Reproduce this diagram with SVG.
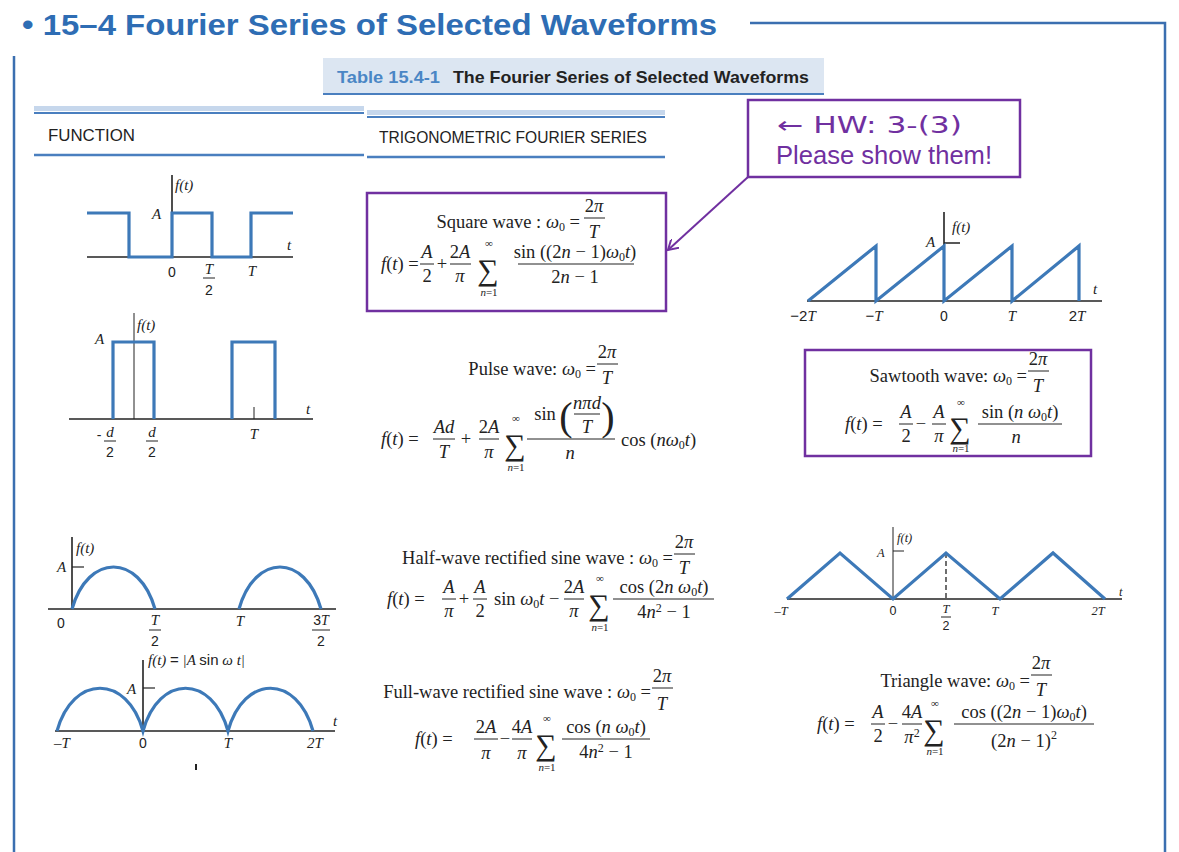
<svg xmlns="http://www.w3.org/2000/svg" width="1179" height="852" viewBox="0 0 1179 852">
<style>
.m{font-family:"Liberation Serif",serif;font-size:18.5px;fill:#222}
.s{font-family:"Liberation Serif",serif;font-size:11px;fill:#222}
.big{font-family:"Liberation Serif",serif;font-size:30px;fill:#222}
.i{font-style:italic}
.lab{font-family:"Liberation Serif",serif;font-style:italic;font-size:15px;fill:#222}
.n{font-family:"Liberation Sans",sans-serif;font-size:14px;fill:#222}
.t12{font-size:12.5px}
.fl{stroke:#222;stroke-width:1}
.ax{stroke:#222;stroke-width:1.6;fill:none}
.w{stroke:#3d79b8;stroke-width:3.2;fill:none;stroke-linejoin:miter}
.box{fill:none;stroke:#7030a0;stroke-width:2.5}
.frame{stroke:#3b6fb0;stroke-width:2.5;fill:none}
</style>
<defs>
<marker id="ah" markerWidth="12" markerHeight="12" refX="10" refY="6" orient="auto" markerUnits="userSpaceOnUse">
<path d="M0,0 L10,6 L0,12" fill="none" stroke="#7030a0" stroke-width="2"/>
</marker>
</defs>
<rect width="1179" height="852" fill="#fff"/>
<g id="frame">
<text x="22" y="35" font-family="Liberation Sans,sans-serif" font-weight="bold" font-size="30" fill="#2e6db4" textLength="695" lengthAdjust="spacingAndGlyphs">• 15–4 Fourier Series of Selected Waveforms</text>
<path class="frame" d="M750,23 H1165 V852"/>
<path class="frame" d="M14,56 V852"/>
</g>
<g id="caption">
<rect x="323" y="58" width="501" height="36" fill="#dce6f2"/>
<line x1="323" y1="94" x2="824" y2="94" stroke="#4a7fbf" stroke-width="2"/>
<text x="337" y="83" font-family="Liberation Sans,sans-serif" font-weight="bold" font-size="17" fill="#4a86c5" textLength="103" lengthAdjust="spacingAndGlyphs">Table 15.4-1</text>
<text x="453" y="83" font-family="Liberation Sans,sans-serif" font-weight="bold" font-size="17" fill="#222" textLength="356" lengthAdjust="spacingAndGlyphs">The Fourier Series of Selected Waveforms</text>
</g>
<g id="headers">
<rect x="34" y="106" width="330" height="5" fill="#c6d7ec"/>
<rect x="367" y="110" width="298" height="5" fill="#c6d7ec"/>
<line x1="34" y1="113" x2="364" y2="113" stroke="#4a7fbf" stroke-width="2"/>
<line x1="367" y1="117" x2="665" y2="117" stroke="#4a7fbf" stroke-width="2"/>
<line x1="34" y1="155" x2="364" y2="155" stroke="#4a7fbf" stroke-width="2.5"/>
<line x1="367" y1="157" x2="665" y2="157" stroke="#4a7fbf" stroke-width="2.5"/>
<text x="48" y="141" font-family="Liberation Sans,sans-serif" font-size="16" fill="#222" textLength="87" lengthAdjust="spacingAndGlyphs">FUNCTION</text>
<text x="379" y="143" font-family="Liberation Sans,sans-serif" font-size="16" fill="#222" textLength="268" lengthAdjust="spacingAndGlyphs">TRIGONOMETRIC FOURIER SERIES</text>
</g>
<g id="hw">
<rect x="748" y="100" width="272" height="77" fill="#fff" class="box"/>
<text x="777" y="133" font-family="DejaVu Sans,sans-serif" font-size="23" fill="#7030a0" textLength="185" lengthAdjust="spacingAndGlyphs">← HW: 3-(3)</text>
<text x="776" y="164" font-family="Liberation Sans,sans-serif" font-size="25" fill="#7030a0" textLength="216" lengthAdjust="spacingAndGlyphs">Please show them!</text>
</g>
<g id="connectors">
<line x1="748" y1="177" x2="668" y2="250" stroke="#7030a0" stroke-width="2" marker-end="url(#ah)"/>
</g>

<g id="square-plot">
<line class="ax" x1="87" y1="257" x2="293" y2="257"/>
<line class="ax" x1="172" y1="175" x2="172" y2="257"/>
<path class="w" d="M87,213 H129 V257 H172 V213 H212 V257 H251 V213 H293"/>
<text class="lab" x="175" y="190">f(t)</text>
<text class="lab" x="152" y="219">A</text>
<text class="lab" x="287" y="250">t</text>
<text class="n" x="172" y="277" text-anchor="middle">0</text>
<text class="lab" x="209" y="274" text-anchor="middle">T</text>
<line class="fl" x1="203" y1="278" x2="215" y2="278"/>
<text class="n" x="209" y="295" text-anchor="middle">2</text>
<text class="lab" x="252" y="276" text-anchor="middle">T</text>
</g>
<g id="square-formula">
<rect x="367" y="193" width="299" height="118" class="box"/>
<text class="m" x="580" y="228" text-anchor="end">Square wave : <tspan class="i">ω</tspan><tspan font-size="12" dy="3">0</tspan><tspan dy="-3"> =</tspan></text>
<text class="m" x="594" y="212" text-anchor="middle">2<tspan class="i">π</tspan></text>
<line class="fl" x1="584" y1="218" x2="605" y2="218"/>
<text class="m i" x="594" y="238" text-anchor="middle">T</text>
<text class="m" x="381" y="270"><tspan class="i">f</tspan>(<tspan class="i">t</tspan>) =</text>
<text class="m i" x="427" y="258" text-anchor="middle">A</text>
<line class="fl" x1="420" y1="264" x2="434" y2="264"/>
<text class="m" x="427" y="282" text-anchor="middle">2</text>
<text class="m" x="442" y="270" text-anchor="middle">+</text>
<text class="m" x="460" y="258" text-anchor="middle">2<tspan class="i">A</tspan></text>
<line class="fl" x1="450" y1="264" x2="471" y2="264"/>
<text class="m i" x="460" y="282" text-anchor="middle">π</text>
<text class="big" x="488" y="280" text-anchor="middle">∑</text>
<text class="s" x="489" y="247" text-anchor="middle">∞</text>
<text class="s i" x="489" y="296" text-anchor="middle">n<tspan font-style="normal">=1</tspan></text>
<text class="m" x="575" y="258" text-anchor="middle">sin ((2<tspan class="i">n</tspan> − 1)<tspan class="i">ω</tspan><tspan font-size="12" dy="3">0</tspan><tspan class="i" dy="-3">t</tspan>)</text>
<line class="fl" x1="518" y1="264" x2="634" y2="264"/>
<text class="m" x="575" y="283" text-anchor="middle">2<tspan class="i">n</tspan> − 1</text>
</g>

<g id="pulse-plot">
<line class="ax" x1="69" y1="419" x2="313" y2="419"/>
<line stroke="#222" stroke-width="1" x1="134" y1="313" x2="134" y2="419"/>
<path class="w" d="M113,419 V342 H154 V419"/>
<path class="w" d="M232,419 V342 H275 V419"/>
<line stroke="#222" stroke-width="1" x1="254" y1="407" x2="254" y2="419"/>
<text class="lab" x="137" y="330">f(t)</text>
<text class="lab" x="95" y="344">A</text>
<text class="lab" x="306" y="414">t</text>
<text class="n" x="99" y="440" text-anchor="middle">-</text>
<text class="lab" x="110" y="437" text-anchor="middle">d</text>
<line class="fl" x1="104" y1="441" x2="116" y2="441"/>
<text class="n" x="110" y="457" text-anchor="middle">2</text>
<text class="lab" x="152" y="437" text-anchor="middle">d</text>
<line class="fl" x1="146" y1="441" x2="158" y2="441"/>
<text class="n" x="152" y="457" text-anchor="middle">2</text>
<text class="lab" x="254" y="439" text-anchor="middle">T</text>
</g>
<g id="pulse-formula">
<text class="m" x="596" y="375" text-anchor="end">Pulse wave: <tspan class="i">ω</tspan><tspan font-size="12" dy="3">0</tspan><tspan dy="-3"> =</tspan></text>
<text class="m" x="607" y="358" text-anchor="middle">2<tspan class="i">π</tspan></text>
<line class="fl" x1="597" y1="364" x2="618" y2="364"/>
<text class="m i" x="607" y="384" text-anchor="middle">T</text>
<text class="m" x="381" y="445"><tspan class="i">f</tspan>(<tspan class="i">t</tspan>) =</text>
<text class="m i" x="444" y="433" text-anchor="middle">Ad</text>
<line class="fl" x1="433" y1="439" x2="455" y2="439"/>
<text class="m i" x="444" y="458" text-anchor="middle">T</text>
<text class="m" x="466" y="445" text-anchor="middle">+</text>
<text class="m" x="489" y="433" text-anchor="middle">2<tspan class="i">A</tspan></text>
<line class="fl" x1="479" y1="439" x2="499" y2="439"/>
<text class="m i" x="489" y="458" text-anchor="middle">π</text>
<text class="big" x="515" y="455" text-anchor="middle">∑</text>
<text class="s" x="516" y="422" text-anchor="middle">∞</text>
<text class="s i" x="516" y="471" text-anchor="middle">n<tspan font-style="normal">=1</tspan></text>
<text class="m" x="545" y="420" text-anchor="middle">sin</text>
<text class="m" x="566" y="430" style="font-size:40px" text-anchor="middle">(</text>
<text class="m i" x="587" y="409" text-anchor="middle">nπd</text>
<line class="fl" x1="574" y1="414" x2="600" y2="414"/>
<text class="m i" x="587" y="433" text-anchor="middle">T</text>
<text class="m" x="608" y="430" style="font-size:40px" text-anchor="middle">)</text>
<line class="fl" x1="527" y1="439" x2="615" y2="439"/>
<text class="m i" x="570" y="459" text-anchor="middle">n</text>
<text class="m" x="621" y="446">cos (<tspan class="i">nω</tspan><tspan font-size="12" dy="3">0</tspan><tspan class="i" dy="-3">t</tspan>)</text>
</g>

<g id="half-plot">
<line class="ax" x1="48" y1="609" x2="336" y2="609"/>
<line class="ax" x1="72" y1="537" x2="72" y2="609"/>
<line stroke="#222" stroke-width="1.2" x1="72" y1="567" x2="84" y2="567"/>
<path class="w" d="M72,609 C88,553 139,553 155,609"/>
<path class="w" d="M239,609 C255,553 305,553 321,609"/>
<text class="lab" x="76" y="553">f(t)</text>
<text class="lab" x="57" y="572">A</text>
<text class="n" x="61" y="628" text-anchor="middle">0</text>
<text class="lab" x="155" y="625" text-anchor="middle">T</text>
<line class="fl" x1="149" y1="630" x2="161" y2="630"/>
<text class="n" x="155" y="646" text-anchor="middle">2</text>
<text class="lab" x="240" y="626" text-anchor="middle">T</text>
<text class="n" x="321" y="625" text-anchor="middle">3<tspan font-family="Liberation Serif" font-style="italic">T</tspan></text>
<line class="fl" x1="312" y1="630" x2="330" y2="630"/>
<text class="n" x="321" y="646" text-anchor="middle">2</text>
</g>
<g id="half-formula">
<text class="m" x="673" y="564" text-anchor="end">Half-wave rectified sine wave : <tspan class="i">ω</tspan><tspan font-size="12" dy="3">0</tspan><tspan dy="-3"> =</tspan></text>
<text class="m" x="684" y="548" text-anchor="middle">2<tspan class="i">π</tspan></text>
<line class="fl" x1="674" y1="554" x2="695" y2="554"/>
<text class="m i" x="684" y="574" text-anchor="middle">T</text>
<text class="m" x="387" y="605"><tspan class="i">f</tspan>(<tspan class="i">t</tspan>) =</text>
<text class="m i" x="449" y="593" text-anchor="middle">A</text>
<line class="fl" x1="442" y1="599" x2="456" y2="599"/>
<text class="m i" x="449" y="617" text-anchor="middle">π</text>
<text class="m" x="464" y="605" text-anchor="middle">+</text>
<text class="m i" x="480" y="593" text-anchor="middle">A</text>
<line class="fl" x1="473" y1="599" x2="487" y2="599"/>
<text class="m" x="480" y="617" text-anchor="middle">2</text>
<text class="m" x="494" y="605">sin <tspan class="i">ω</tspan><tspan font-size="12" dy="3">0</tspan><tspan class="i" dy="-3">t</tspan> −</text>
<text class="m" x="574" y="593" text-anchor="middle">2<tspan class="i">A</tspan></text>
<line class="fl" x1="564" y1="599" x2="584" y2="599"/>
<text class="m i" x="574" y="617" text-anchor="middle">π</text>
<text class="big" x="599" y="615" text-anchor="middle">∑</text>
<text class="s" x="600" y="582" text-anchor="middle">∞</text>
<text class="s i" x="600" y="631" text-anchor="middle">n<tspan font-style="normal">=1</tspan></text>
<text class="m" x="664" y="593" text-anchor="middle">cos (2<tspan class="i">n ω</tspan><tspan font-size="12" dy="3">0</tspan><tspan class="i" dy="-3">t</tspan>)</text>
<line class="fl" x1="613" y1="599" x2="714" y2="599"/>
<text class="m" x="664" y="618" text-anchor="middle">4<tspan class="i">n</tspan><tspan font-size="12" dy="-6">2</tspan><tspan dy="6"> − 1</tspan></text>
</g>

<g id="full-plot">
<line class="ax" x1="55" y1="731" x2="335" y2="731"/>
<line class="ax" x1="143" y1="660" x2="143" y2="731"/>
<line stroke="#222" stroke-width="1.2" x1="143" y1="688" x2="155" y2="688"/>
<path class="w" d="M57,731 C73,674 127,674 143,731 C159,674 212,674 228,731 C244,674 297,674 313,731"/>
<text class="lab" x="148" y="665">f(t) <tspan font-style="normal" font-family="Liberation Sans">=</tspan> |A <tspan font-style="normal" font-family="Liberation Sans">sin</tspan> ω t|</text>
<text class="lab" x="127" y="694">A</text>
<text class="lab" x="333" y="726">t</text>
<text class="lab" x="62" y="748" text-anchor="middle">–T</text>
<text class="n" x="143" y="748" text-anchor="middle">0</text>
<text class="lab" x="228" y="748" text-anchor="middle">T</text>
<text class="lab" x="315" y="748" text-anchor="middle">2T</text>
<line stroke="#222" stroke-width="2" x1="196" y1="764" x2="196" y2="770"/>
</g>
<g id="full-formula">
<text class="m" x="651" y="698" text-anchor="end">Full-wave rectified sine wave : <tspan class="i">ω</tspan><tspan font-size="12" dy="3">0</tspan><tspan dy="-3"> =</tspan></text>
<text class="m" x="662" y="682" text-anchor="middle">2<tspan class="i">π</tspan></text>
<line class="fl" x1="652" y1="688" x2="673" y2="688"/>
<text class="m i" x="662" y="710" text-anchor="middle">T</text>
<text class="m" x="415" y="745"><tspan class="i">f</tspan>(<tspan class="i">t</tspan>) =</text>
<text class="m" x="486" y="733" text-anchor="middle">2<tspan class="i">A</tspan></text>
<line class="fl" x1="474" y1="739" x2="498" y2="739"/>
<text class="m i" x="486" y="759" text-anchor="middle">π</text>
<text class="m" x="505" y="745" text-anchor="middle">−</text>
<text class="m" x="522" y="733" text-anchor="middle">4<tspan class="i">A</tspan></text>
<line class="fl" x1="512" y1="739" x2="532" y2="739"/>
<text class="m i" x="522" y="759" text-anchor="middle">π</text>
<text class="big" x="546" y="755" text-anchor="middle">∑</text>
<text class="s" x="547" y="722" text-anchor="middle">∞</text>
<text class="s i" x="547" y="771" text-anchor="middle">n<tspan font-style="normal">=1</tspan></text>
<text class="m" x="606" y="733" text-anchor="middle">cos (<tspan class="i">n ω</tspan><tspan font-size="12" dy="3">0</tspan><tspan class="i" dy="-3">t</tspan>)</text>
<line class="fl" x1="562" y1="739" x2="650" y2="739"/>
<text class="m" x="606" y="758" text-anchor="middle">4<tspan class="i">n</tspan><tspan font-size="12" dy="-6">2</tspan><tspan dy="6"> − 1</tspan></text>
</g>

<g id="saw-plot">
<line class="ax" x1="807" y1="301" x2="1102" y2="301"/>
<path class="ax" d="M944,212 V301 M944,243 H960"/>
<path class="w" d="M808,301 L876,246 V301 L944,246 V301 L1012,246 V301 L1079,246 V301"/>
<text class="lab" x="952" y="232">f(t)</text>
<text class="lab" x="926" y="247">A</text>
<text class="lab" x="1093" y="294">t</text>
<text class="lab" x="803" y="321" text-anchor="middle"><tspan font-style="normal" font-family="Liberation Sans">−2</tspan>T</text>
<text class="lab" x="874" y="321" text-anchor="middle"><tspan font-style="normal" font-family="Liberation Sans">−</tspan>T</text>
<text class="n" x="944" y="321" text-anchor="middle">0</text>
<text class="lab" x="1012" y="321" text-anchor="middle">T</text>
<text class="lab" x="1077" y="321" text-anchor="middle"><tspan font-style="normal" font-family="Liberation Sans">2</tspan>T</text>
</g>
<g id="saw-formula">
<rect x="805" y="350" width="286" height="106" class="box"/>
<text class="m" x="1027" y="382" text-anchor="end">Sawtooth wave: <tspan class="i">ω</tspan><tspan font-size="12" dy="3">0</tspan><tspan dy="-3"> =</tspan></text>
<text class="m" x="1038" y="365" text-anchor="middle">2<tspan class="i">π</tspan></text>
<line class="fl" x1="1028" y1="371" x2="1049" y2="371"/>
<text class="m i" x="1038" y="392" text-anchor="middle">T</text>
<text class="m" x="845" y="430"><tspan class="i">f</tspan>(<tspan class="i">t</tspan>) =</text>
<text class="m i" x="906" y="418" text-anchor="middle">A</text>
<line class="fl" x1="899" y1="424" x2="913" y2="424"/>
<text class="m" x="906" y="442" text-anchor="middle">2</text>
<text class="m" x="921" y="430" text-anchor="middle">−</text>
<text class="m i" x="939" y="418" text-anchor="middle">A</text>
<line class="fl" x1="932" y1="424" x2="946" y2="424"/>
<text class="m i" x="939" y="442" text-anchor="middle">π</text>
<text class="big" x="960" y="438" text-anchor="middle">∑</text>
<text class="s" x="961" y="406" text-anchor="middle">∞</text>
<text class="s i" x="961" y="452" text-anchor="middle">n<tspan font-style="normal">=1</tspan></text>
<text class="m" x="1020" y="418" text-anchor="middle">sin (<tspan class="i">n ω</tspan><tspan font-size="12" dy="3">0</tspan><tspan class="i" dy="-3">t</tspan>)</text>
<line class="fl" x1="978" y1="424" x2="1062" y2="424"/>
<text class="m i" x="1016" y="443" text-anchor="middle">n</text>
</g>

<g id="tri-plot">
<line class="ax" x1="787" y1="599" x2="1122" y2="599"/>
<path stroke="#222" stroke-width="1" fill="none" d="M893,527 V599 M893,551 H904"/>
<line stroke="#222" stroke-width="1.3" stroke-dasharray="5,3" x1="946" y1="553" x2="946" y2="599"/>
<path class="w" stroke-width="2.8" d="M787,599 L840,553 L893,599 L946,553 L1000,599 L1053,553 L1105,599"/>
<text class="lab t12" x="897" y="542">f(t)</text>
<text class="lab t12" x="877" y="557">A</text>
<text class="lab t12" x="1119" y="596">t</text>
<text class="lab t12" x="781" y="615" text-anchor="middle">–T</text>
<text class="n t12" x="893" y="615" text-anchor="middle">0</text>
<text class="lab t12" x="946" y="613" text-anchor="middle">T</text>
<line class="fl" x1="941" y1="617" x2="951" y2="617"/>
<text class="n t12" x="946" y="630" text-anchor="middle">2</text>
<text class="lab t12" x="995" y="615" text-anchor="middle">T</text>
<text class="lab t12" x="1098" y="615" text-anchor="middle">2T</text>
</g>
<g id="tri-formula">
<text class="m" x="1030" y="687" text-anchor="end">Triangle wave: <tspan class="i">ω</tspan><tspan font-size="12" dy="3">0</tspan><tspan dy="-3"> =</tspan></text>
<text class="m" x="1041" y="669" text-anchor="middle">2<tspan class="i">π</tspan></text>
<line class="fl" x1="1031" y1="675" x2="1052" y2="675"/>
<text class="m i" x="1041" y="696" text-anchor="middle">T</text>
<text class="m" x="817" y="730"><tspan class="i">f</tspan>(<tspan class="i">t</tspan>) =</text>
<text class="m i" x="878" y="718" text-anchor="middle">A</text>
<line class="fl" x1="871" y1="724" x2="885" y2="724"/>
<text class="m" x="878" y="742" text-anchor="middle">2</text>
<text class="m" x="893" y="730" text-anchor="middle">−</text>
<text class="m" x="912" y="718" text-anchor="middle">4<tspan class="i">A</tspan></text>
<line class="fl" x1="902" y1="724" x2="922" y2="724"/>
<text class="m" x="912" y="743" text-anchor="middle"><tspan class="i">π</tspan><tspan font-size="12" dy="-6">2</tspan></text>
<text class="big" x="934" y="740" text-anchor="middle">∑</text>
<text class="s" x="935" y="707" text-anchor="middle">∞</text>
<text class="s i" x="935" y="755" text-anchor="middle">n<tspan font-style="normal">=1</tspan></text>
<text class="m" x="1024" y="718" text-anchor="middle">cos ((2<tspan class="i">n</tspan> − 1)<tspan class="i">ω</tspan><tspan font-size="12" dy="3">0</tspan><tspan class="i" dy="-3">t</tspan>)</text>
<line class="fl" x1="954" y1="724" x2="1094" y2="724"/>
<text class="m" x="1024" y="747" text-anchor="middle">(2<tspan class="i">n</tspan> − 1)<tspan font-size="12" dy="-8">2</tspan></text>
</g>
</svg>
